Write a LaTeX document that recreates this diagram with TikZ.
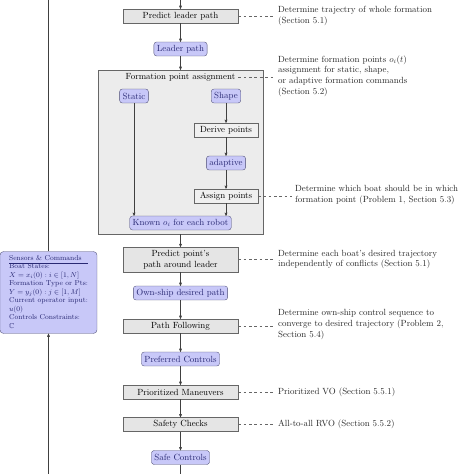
\documentclass[tikz,border=0pt]{standalone}
\usepackage{amssymb}
\usetikzlibrary{arrows, positioning}

\definecolor{dataedge}{RGB}{75,75,115}
\definecolor{datafill}{RGB}{200,200,248}
\definecolor{datatext}{RGB}{40,40,115}

\tikzset{
  procbox/.style={draw=black!60, fill=gray!20, minimum width=4.54cm, minimum height=0.55cm, align=center},
  subbox/.style={draw=black!60, fill=gray!12, minimum width=2.5cm, minimum height=0.55cm},
  databox/.style={draw=dataedge, fill=datafill, text=datatext, rounded corners=3pt, minimum height=0.55cm},
  note/.style={anchor=west, align=left, text=black!85},
  link/.style={dashed, black!60},
  flow/.style={->, black!75},
}

\begin{document}
\begin{tikzpicture}[>=stealth', x=0.0394cm, y=-0.0394cm]
    \useasboundingbox (0,0) rectangle (474,474);
    % leader
    \coordinate (topin) at (180.5,0);
    \node[procbox] (leadpred) at (180.5,16) {Predict leader path};
    \node[databox] (leadpath) at (180.5,49) {Leader path};
    % formation point assignment
    \node[draw=black!60, fill=gray!15, minimum width=6.5cm, minimum height=6.46cm] (assign) at (180.5,152) {};
    \node (assigntitle) at (180.5,77) {Formation point assignment};
    \node[databox] (static) at (134,96) {Static};
    \node[databox] (shape) at (226,96) {Shape};
    \node[subbox] (derive) at (226,130) {Derive points};
    \node[databox] (adaptive) at (226,163) {adaptive};
    \node[subbox] (place) at (226,196) {Assign points};
    \node[databox] (known) at (180.5,223) {Known $o_i$ for each robot};
    % own-ship chain
    \node[procbox] (predpt) at (180.5,259.5) {Predict point's\\path around leader};
    \node[databox] (ownpath) at (180.5,293) {Own-ship desired path};
    \node[procbox] (follow) at (180.5,326) {Path Following};
    \node[databox] (prefctl) at (180.5,359) {Preferred Controls};
    \node[procbox] (prio) at (180.5,392) {Prioritized Maneuvers};
    \node[procbox] (safety) at (180.5,424.5) {Safety Checks};
    \node[databox] (safectl) at (180.5,457.5) {Safe Controls};
    \coordinate (botout) at (180.5,474);
    % sensors
    \node[databox, rounded corners=4pt, inner sep=3pt, minimum width=3.82cm, minimum height=3.03cm, font=\footnotesize] (sense) at (48.5,292.5)
        {\begin{tabular}{@{}l@{}}Sensors \& Commands\\\hline
         Boat States:\\
         $X = x_i(0) : i \in [1,N]$\\
         Formation Type or Pts:\\
         $Y = y_j(0) : j \in [1,M]$\\
         Current operator input:\\
         $u(0)$\\
         Controls Constraints:\\
         $\mathbb{C}$\end{tabular}};
    \coordinate (senseup) at (48.5,0);
    \coordinate (sensein) at (48.5,474);

    \draw[flow] (topin) -- (leadpred);
    \draw[flow] (leadpred) -- (leadpath);
    \draw[flow] (leadpath) -- (assign);
    \draw[flow] (shape) -- (derive);
    \draw[flow] (derive) -- (adaptive);
    \draw[flow] (adaptive) -- (place);
    \draw[flow] (place) -- (place |- known.north);
    \draw[flow] (static) -- (static |- known.north);
    \draw[flow] (assign) -- (predpt);
    \draw[flow] (predpt) -- (ownpath);
    \draw[flow] (ownpath) -- (follow);
    \draw[flow] (follow) -- (prefctl);
    \draw[flow] (prefctl) -- (prio);
    \draw[flow] (prio) -- (safety);
    \draw[flow] (safety) -- (safectl);
    \draw[black!75] (safectl) -- (botout);
    \draw[black!75] (sense) -- (senseup);
    \draw[flow] (sensein) -- (sense);

    % notes
    \node[note] (n1) at (275,16) {Determine trajectry of whole formation\\(Section 5.1)};
    \node[note] (n2) at (275,76) {Determine formation points $o_i(t)$\\assignment for static, shape,\\or adaptive formation commands\\(Section 5.2)};
    \node[note] (n3) at (292,195) {Determine which boat should be in which\\formation point (Problem 1, Section 5.3)};
    \node[note] (n4) at (275,259.5) {Determine each boat's desired trajectory\\independently of conflicts (Section 5.1)};
    \node[note] (n5) at (275,324.5) {Determine own-ship control sequence to\\converge to desired trajectory (Problem 2,\\Section 5.4)};
    \node[note] (n6) at (275,392) {Prioritized VO (Section 5.5.1)};
    \node[note] (n7) at (275,424.5) {All-to-all RVO (Section 5.5.2)};
    \draw[link] (leadpred) -- (n1.west |- leadpred);
    \draw[link] (assigntitle) -- (n2.west |- assigntitle);
    \draw[link] (place) -- (n3.west |- place);
    \draw[link] (predpt) -- (n4.west |- predpt);
    \draw[link] (follow) -- (n5.west |- follow);
    \draw[link] (prio) -- (n6);
    \draw[link] (safety) -- (n7);
\end{tikzpicture}
\end{document}
